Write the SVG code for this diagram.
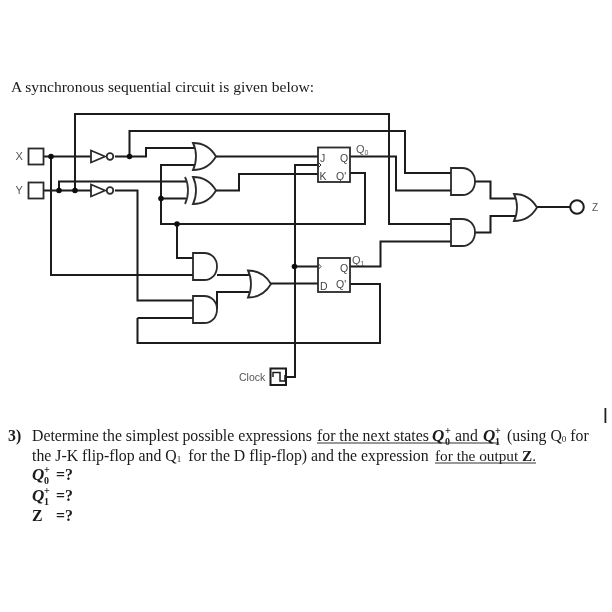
<svg xmlns="http://www.w3.org/2000/svg" width="612" height="612" viewBox="0 0 612 612">
<defs>
<style>
.w{fill:none;stroke:#1c1c1c;stroke-width:2}
.g{fill:#fff;stroke:#2a2a2a;stroke-width:1.8}
.d{fill:#111}
.s{font-family:"Liberation Sans",Arial,sans-serif;fill:#555;font-size:11px}
.f{font-family:"Liberation Sans",Arial,sans-serif;fill:#444;font-size:10.5px}
.t{font-family:"Liberation Serif","Times New Roman",serif;fill:#1a1a1a;font-size:15.800px}
.h{font-size:15.600px}
.b{font-weight:bold;font-style:italic}
.q{font-size:17px}
.m{font-size:10px;font-weight:bold}
.u{fill:none;stroke:#333;stroke-width:1}
</style>
<filter id="soft" x="0" y="0" width="100%" height="100%"><feGaussianBlur stdDeviation="0.350"/></filter>
<path id="and" d="M0 0H11C19 0 24 6 24 13.500C24 21 19 27 11 27H0Z"/>
<path id="or" d="M0 0C11 0 18 5 23 13.500C18 22 11 27 0 27C4 19 4 8 0 0Z"/>
</defs>
<rect width="612" height="612" fill="#fff"/>
<g filter="url(#soft)">
<text class="t h" x="11" y="92">A synchronous sequential circuit is given below:</text>
<g id="connectors" class="w">
<path d="M43 156.500H91M115 156.500H146V148H194"/>
<path d="M51 156.500V275H193"/>
<path d="M129.500 156.500V131H405V173H451"/>
<path d="M43 190.500H91M59 190.500V181.500H186"/>
<path d="M75 190.500V114H389V224H451"/>
<path d="M115 190.500H137.500V300.500H193M137.500 318H193M137.500 318V343H380V284H350"/>
<path d="M194 165H161V224H365V173H350"/>
<path d="M161 198.500H186M177 224V258H193"/>
<path d="M216 156.500H318M216 190.500H239V174H318"/>
<path d="M217 275H249M217 309V292H249M270 283.500H318"/>
<path d="M318 165H295V377H286M295 266.500H318"/>
<path d="M350 156.500H396V190.500H451"/>
<path d="M350 266.500H380.500V241.500H451"/>
<path d="M475 181.500H490.500V198.500H515M475 232.500H490.500V216H515M537 207H570"/>
<circle class="d" cx="51" cy="156.500" r="2.800" stroke="none"/>
<circle class="d" cx="129.500" cy="156.500" r="2.800" stroke="none"/>
<circle class="d" cx="59" cy="190.500" r="2.800" stroke="none"/>
<circle class="d" cx="75" cy="190.500" r="2.800" stroke="none"/>
<circle class="d" cx="161" cy="198.500" r="2.800" stroke="none"/>
<circle class="d" cx="177" cy="224" r="2.800" stroke="none"/>
<circle class="d" cx="294.500" cy="266.500" r="2.800" stroke="none"/>
</g>
<g id="input-x"><rect class="g" x="28.500" y="148.500" width="15" height="16"/><text class="s" x="15.500" y="159.500">X</text></g>
<g id="input-y"><rect class="g" x="28.500" y="182.500" width="15" height="16"/><text class="s" x="15.500" y="194">Y</text></g>
<g id="not-x"><path class="g" d="M91 150.500L105 156.500L91 162.500Z"/><circle class="g" cx="110" cy="156.500" r="3.300"/></g>
<g id="not-y"><path class="g" d="M91 184.500L105 190.500L91 196.500Z"/><circle class="g" cx="110" cy="190.500" r="3.300"/></g>
<g id="or-top"><use href="#or" class="g" x="193" y="143"/></g>
<g id="xor"><use href="#or" class="g" x="193" y="177"/><path class="u" style="stroke-width:1.800" d="M185 177C189 185 189 196 185 204"/></g>
<g id="and-mid"><use href="#and" class="g" x="193" y="253"/></g>
<g id="and-low"><use href="#and" class="g" x="193" y="296"/></g>
<g id="or-d"><use href="#or" class="g" x="248" y="270.500"/></g>
<g id="and-r1"><use href="#and" class="g" x="451" y="168"/></g>
<g id="and-r2"><use href="#and" class="g" x="451" y="219"/></g>
<g id="or-z"><use href="#or" class="g" x="514" y="194"/></g>
<g id="ff-jk">
<rect class="g" x="318" y="147.500" width="32" height="34.500"/>
<path class="u" d="M318 162L321 165L318 168"/>
<text class="f" x="320" y="162">J</text><text class="f" x="340" y="162">Q</text>
<text class="f" x="319.500" y="180">K</text><text class="f" x="336" y="180">Q'</text>
<text class="s" x="356" y="153">Q<tspan font-size="7" dy="1.500">0</tspan></text>
</g>
<g id="ff-d">
<rect class="g" x="318" y="258" width="32" height="34"/>
<path class="u" d="M318 263.500L321 266.500L318 269.500"/>
<text class="f" x="340" y="272">Q</text>
<text class="f" x="320" y="290">D</text><text class="f" x="336" y="288">Q'</text>
<text class="s" x="352" y="264">Q<tspan font-size="7" dy="1.500">1</tspan></text>
</g>
<g id="clock">
<text class="s" x="239" y="381" style="font-size:10.500px">Clock</text>
<rect class="w" x="270.500" y="368.500" width="15.500" height="16.500"/>
<path class="w" style="stroke-width:1.500" d="M273 377V372.500H280V381H285V375"/>
</g>
<g id="output-z"><circle class="w" cx="577" cy="207" r="6.800"/><text class="s" x="592" y="211" style="font-size:10px">Z</text></g>
<g id="question">
<text class="t" x="8" y="441" font-weight="bold">3)</text>
<text class="t" x="32" y="441">Determine the simplest possible expressions</text>
<text class="t" x="317" y="441">for the next states</text>
<text class="t b q" x="432" y="441">Q</text><text class="t m" x="445" y="434">+</text><text class="t m" x="445" y="445">0</text>
<text class="t" x="455" y="441">and</text>
<text class="t b q" x="483" y="441">Q</text><text class="t m" x="495" y="434">+</text><text class="t m" x="495" y="445">1</text>
<text class="t" x="507" y="441">(using Q<tspan font-size="9" dy="1">0</tspan><tspan dy="-1"> for</tspan></text>
<path class="u" d="M317 443H499"/>
<text class="t" x="32" y="461">the J-K flip-flop and Q<tspan font-size="9" dy="1">1</tspan><tspan dy="-1" dx="3"> for the D flip-flop) and the expression</tspan></text>
<text class="t" style="font-size:15.300px" x="435" y="461">for the output <tspan font-weight="bold">Z</tspan>.</text>
<path class="u" d="M435 463H536"/>
<text class="t b q" x="32" y="480">Q</text><text class="t m" x="44" y="473">+</text><text class="t m" x="44" y="484">0</text><text class="t" x="56" y="480" font-weight="bold">=?</text>
<text class="t b q" x="32" y="501">Q</text><text class="t m" x="44" y="494">+</text><text class="t m" x="44" y="505">1</text><text class="t" x="56" y="501" font-weight="bold">=?</text>
<text class="t" x="32" y="521" font-weight="bold">Z</text><text class="t" x="56" y="521" font-weight="bold">=?</text>
</g>
<rect x="604.500" y="408" width="1.800" height="15" fill="#222"/>
</g>
</svg>
